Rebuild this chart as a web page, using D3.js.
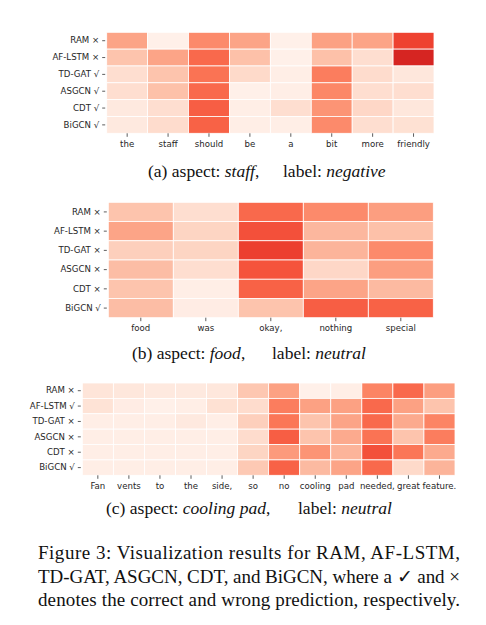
<!DOCTYPE html>
<html>
<head>
<meta charset="utf-8">
<script src="https://cdnjs.cloudflare.com/ajax/libs/d3/7.8.5/d3.min.js"></script>
<style>
  body { margin: 0; background: #fff; }
  svg { display: block; }
  .tick text { font-family: 'DejaVu Sans', sans-serif; font-size: 8.6px; fill: #262626; }
  .tick line { stroke: #333; stroke-width: 0.8; }
  .cap { font-family: 'Liberation Serif', 'Times New Roman', serif; fill: #111; }
</style>
</head>
<body>
<div id="chart"></div>
<script>
// (a) aspect: staff
const rowsA  = ['RAM \u00d7', 'AF-LSTM \u00d7', 'TD-GAT \u221a', 'ASGCN \u221a', 'CDT \u221a', 'BiGCN \u221a'];
const wordsA = ['the', 'staff', 'should', 'be', 'a', 'bit', 'more', 'friendly'];
const valsA  = [
  [0.32, 0.03, 0.40, 0.32, 0.03, 0.33, 0.32, 0.61],
  [0.22, 0.32, 0.50, 0.23, 0.03, 0.23, 0.12, 0.71],
  [0.12, 0.22, 0.47, 0.14, 0.04, 0.44, 0.13, 0.08],
  [0.12, 0.23, 0.50, 0.03, 0.04, 0.41, 0.12, 0.12],
  [0.07, 0.12, 0.53, 0.04, 0.12, 0.37, 0.15, 0.08],
  [0.07, 0.13, 0.52, 0.04, 0.04, 0.40, 0.12, 0.11]
];

// (b) aspect: food
const rowsB  = ['RAM \u00d7', 'AF-LSTM \u00d7', 'TD-GAT \u00d7', 'ASGCN \u00d7', 'CDT \u00d7', 'BiGCN \u221a'];
const wordsB = ['food', 'was', 'okay,', 'nothing', 'special'];
const valsB  = [
  [0.22, 0.12, 0.50, 0.40, 0.34],
  [0.32, 0.16, 0.57, 0.26, 0.23],
  [0.18, 0.16, 0.62, 0.27, 0.40],
  [0.24, 0.12, 0.56, 0.15, 0.34],
  [0.22, 0.04, 0.52, 0.32, 0.25],
  [0.24, 0.05, 0.22, 0.53, 0.52]
];

// (c) aspect: cooling pad
const rowsC  = ['RAM \u00d7', 'AF-LSTM \u221a', 'TD-GAT \u00d7', 'ASGCN \u00d7', 'CDT \u00d7', 'BiGCN \u221a'];
const wordsC = ['Fan', 'vents', 'to', 'the', 'side,', 'so', 'no', 'cooling', 'pad', 'needed,', 'great', 'feature.'];
const valsC  = [
  [0.09, 0.08, 0.07, 0.07, 0.08, 0.21, 0.33, 0.03, 0.04, 0.42, 0.50, 0.34],
  [0.10, 0.05, 0.03, 0.04, 0.11, 0.13, 0.44, 0.33, 0.33, 0.50, 0.33, 0.22],
  [0.04, 0.04, 0.04, 0.07, 0.04, 0.18, 0.46, 0.22, 0.32, 0.50, 0.30, 0.42],
  [0.04, 0.04, 0.04, 0.04, 0.04, 0.13, 0.53, 0.22, 0.30, 0.47, 0.22, 0.44],
  [0.04, 0.04, 0.04, 0.04, 0.04, 0.16, 0.35, 0.37, 0.27, 0.57, 0.46, 0.30],
  [0.04, 0.04, 0.04, 0.04, 0.04, 0.20, 0.52, 0.25, 0.32, 0.50, 0.14, 0.27]
];

const captionLines = [
  'Figure 3:  Visualization results for RAM, AF-LSTM,',
  'TD-GAT, ASGCN, CDT, and BiGCN, where a \u2713 and \u00d7',
  'denotes the correct and wrong prediction, respectively.'
];

const W = 486, H = 625;
const color = d3.scaleSequential(d3.interpolateReds).domain([0, 1]);

const svg = d3.select('#chart').append('svg')
  .attr('width', W).attr('height', H)
  .attr('viewBox', `0 0 ${W} ${H}`);

function heat(box, rows, words, vals) {
  const x = d3.scaleBand().domain(words.map((_, i) => i)).range([box.x0, box.x1]);
  const y = d3.scaleBand().domain(rows.map((_, i) => i)).range([box.y0, box.y1]);
  const g = svg.append('g');

  vals.forEach((row, r) => {
    row.forEach((v, c) => {
      g.append('rect')
        .attr('x', x(c)).attr('y', y(r))
        .attr('width', x.bandwidth()).attr('height', y.bandwidth())
        .attr('fill', color(v))
        .attr('stroke', '#fff').attr('stroke-width', 0.8);
    });
  });

  const ax = g.append('g').attr('transform', `translate(0,${box.y1})`)
    .call(d3.axisBottom(x).tickSize(3.5).tickPadding(4).tickFormat(i => words[i]));
  ax.select('.domain').remove();

  const ay = g.append('g').attr('transform', `translate(${box.x0 - 1.5},0)`)
    .call(d3.axisLeft(y).tickSize(3).tickPadding(3).tickFormat(i => rows[i]));
  ay.select('.domain').remove();
}

function subcap(x1, x2, y, tag, aspect, label) {
  const t1 = svg.append('text').attr('class', 'cap').attr('x', x1).attr('y', y).style('font-size', '17.5px');
  t1.append('tspan').text(`(${tag}) aspect: `);
  t1.append('tspan').style('font-style', 'italic').text(aspect);
  t1.append('tspan').text(',');
  const t2 = svg.append('text').attr('class', 'cap').attr('x', x2).attr('y', y).style('font-size', '17.5px');
  t2.append('tspan').text('label: ');
  t2.append('tspan').style('font-style', 'italic').text(label);
}

heat({ x0: 106.7, x1: 434, y0: 32.3, y1: 133.3 }, rowsA, wordsA, valsA);
heat({ x0: 108.3, x1: 433.3, y0: 202.3, y1: 317.7 }, rowsB, wordsB, valsB);
heat({ x0: 82.3, x1: 455, y0: 383, y1: 475.3 }, rowsC, wordsC, valsC);

subcap(148, 283, 176.5, 'a', 'staff', 'negative');
subcap(132, 272, 359, 'b', 'food', 'neutral');
subcap(106, 298, 514, 'c', 'cooling pad', 'neutral');

captionLines.forEach((s, i) => {
  svg.append('text').attr('class', 'cap')
    .attr('x', 38).attr('y', 559 + i * 23.6)
    .attr('textLength', 422).attr('lengthAdjust', 'spacing')
    .style('font-size', '19px')
    .text(s);
});
</script>
</body>
</html>
